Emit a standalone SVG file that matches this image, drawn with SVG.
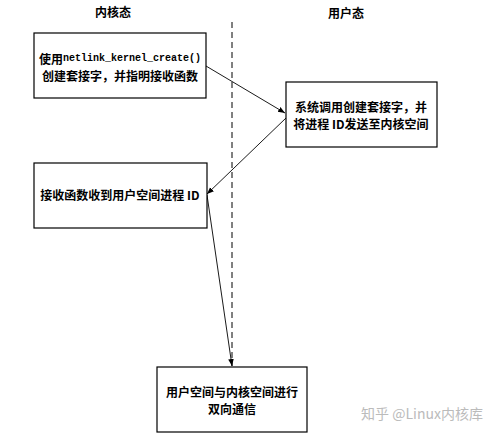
<svg xmlns="http://www.w3.org/2000/svg" width="504" height="438" viewBox="0 0 504 438">
<defs>
<style>
.box{fill:#fff;stroke:#000;stroke-width:1.2}
.t{font-family:"Noto Sans CJK SC","Liberation Sans",sans-serif;font-size:12px;font-weight:bold;fill:#000;text-anchor:middle;dominant-baseline:central}
.m{font-family:"Liberation Mono",monospace;font-size:10px;font-weight:bold}
.c{stroke:#000;stroke-width:0.9;fill:none}
</style>
<marker id="ah" viewBox="0 0 10 10" refX="10" refY="5" markerWidth="7" markerHeight="7" orient="auto" markerUnits="userSpaceOnUse">
<path d="M0,1 L10,5 L0,9 z" fill="#000"/>
</marker>
</defs>
<rect width="504" height="438" fill="#fff"/>
<text class="t" x="113" y="11">内核态</text>
<text class="t" x="346" y="12">用户态</text>
<line x1="232" y1="22" x2="232" y2="366" stroke="#000" stroke-width="1" stroke-dasharray="6,4"/>
<g id="connectors">
<line class="c" x1="206" y1="66" x2="285" y2="113" marker-end="url(#ah)"/>
<line class="c" x1="286" y1="118" x2="207" y2="194" marker-end="url(#ah)"/>
<line class="c" x1="207" y1="195" x2="232" y2="366" marker-end="url(#ah)"/>
</g>
<g id="n1">
<rect class="box" x="34" y="33" width="172" height="65"/>
<text class="t" x="120" y="58">使用<tspan class="m">netlink_kernel_create()</tspan></text>
<text class="t" x="120" y="75">创建套接字，并指明接收函数</text>
</g>
<g id="n2">
<rect class="box" x="286" y="82" width="151" height="65"/>
<text class="t" x="361" y="106">系统调用创建套接字，并</text>
<text class="t" x="361" y="123">将进程 ID发送至内核空间</text>
</g>
<g id="n3">
<rect class="box" x="34" y="163" width="173" height="65"/>
<text class="t" x="120" y="194">接收函数收到用户空间进程 ID</text>
</g>
<g id="n4">
<rect class="box" x="157" y="367" width="150" height="65"/>
<text class="t" x="232" y="391">用户空间与内核空间进行</text>
<text class="t" x="232" y="408">双向通信</text>
</g>
<text x="422" y="413" font-family="Noto Sans CJK SC,Liberation Sans,sans-serif" font-size="14" fill="#bbb" text-anchor="middle" dominant-baseline="central">知乎 @Linux内核库</text>
</svg>
